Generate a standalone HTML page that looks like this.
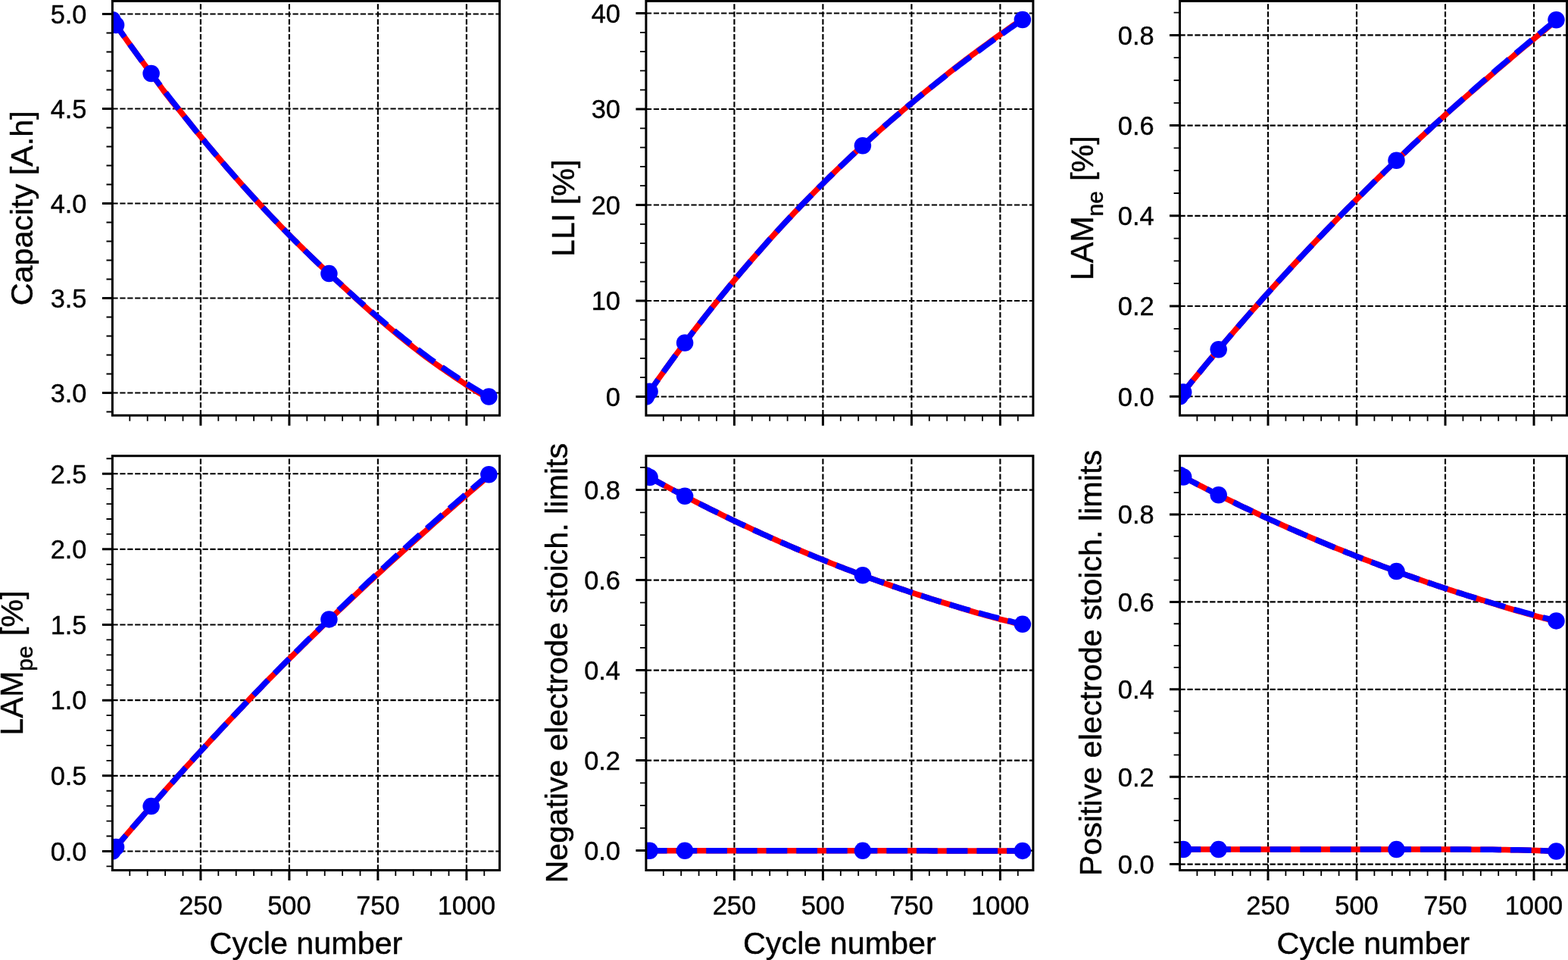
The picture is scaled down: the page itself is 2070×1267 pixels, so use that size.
<!DOCTYPE html>
<html lang="en">
<head>
<meta charset="utf-8">
<title>Degradation summary vs cycle number</title>
<style>
html,body{margin:0;padding:0;background:#fff;}
body{width:2070px;height:1267px;}
svg{display:block;}
</style>
</head>
<body>
<svg width="2070" height="1267" viewBox="0 0 2070 1267" font-family="'Liberation Sans', sans-serif" fill="#000">
<rect width="2070" height="1267" fill="#fff"/>
<defs>
<clipPath id="c0"><rect x="148.4" y="1.4" width="511.2" height="546.85"/></clipPath>
<clipPath id="c1"><rect x="852.9" y="1.4" width="511" height="546.85"/></clipPath>
<clipPath id="c2"><rect x="1557.5" y="1.4" width="511" height="546.85"/></clipPath>
<clipPath id="c3"><rect x="148.4" y="601.7" width="511.2" height="546.85"/></clipPath>
<clipPath id="c4"><rect x="852.9" y="601.7" width="511" height="546.85"/></clipPath>
<clipPath id="c5"><rect x="1557.5" y="601.7" width="511" height="546.85"/></clipPath>
</defs>
<g id="ax1">
<path d="M264.9 548.25V1.4M381.9 548.25V1.4M498.9 548.25V1.4M615.9 548.25V1.4M148.4 518.5H659.6M148.4 393.5H659.6M148.4 268.5H659.6M148.4 143.5H659.6M148.4 18.5H659.6" fill="none" stroke="#000" stroke-width="2.15" stroke-dasharray="7.25 2.67"/>
<g clip-path="url(#c0)" fill="none">
<path d="M148.4 26.25 L152.58 32.22 L156.75 38.15 L160.93 44.04 L165.11 49.9 L169.28 55.73 L173.46 61.52 L177.64 67.29 L181.81 73.01 L185.99 78.71 L190.16 84.37 L194.34 90 L198.52 95.59 L202.69 101.15 L206.87 106.93 L211.05 112.85 L215.22 118.65 L219.4 124.12 L223.58 129.55 L227.75 134.82 L231.93 139.77 L236.11 144.69 L240.28 149.75 L244.46 154.99 L248.64 160.2 L252.81 165.38 L256.99 170.52 L261.16 175.63 L265.34 180.71 L269.52 185.76 L273.69 190.78 L277.87 195.77 L282.05 200.73 L286.22 205.65 L290.4 210.55 L294.58 215.41 L298.75 220.24 L302.93 225.05 L307.11 229.82 L311.28 234.56 L315.46 239.27 L319.64 243.95 L323.81 248.6 L327.99 253.22 L332.16 257.81 L336.34 262.37 L340.52 266.9 L344.69 271.41 L348.87 275.88 L353.05 280.32 L357.22 284.73 L361.4 289.12 L365.58 293.47 L369.75 297.8 L373.93 302.09 L378.11 306.36 L382.28 310.6 L386.46 314.81 L390.64 318.99 L394.81 323.14 L398.99 327.27 L403.16 331.36 L407.34 335.43 L411.52 339.47 L415.69 343.48 L419.87 347.46 L424.05 351.42 L428.22 355.35 L432.4 359.25 L436.58 363.12 L440.75 366.96 L444.93 370.78 L449.11 374.59 L453.28 378.45 L457.46 382.33 L461.64 386.19 L465.81 390.05 L469.99 393.89 L474.16 397.72 L478.34 401.51 L482.52 405.3 L486.69 409.06 L490.87 412.77 L495.05 416.46 L499.22 420.11 L503.4 423.69 L507.58 427.22 L511.75 430.72 L515.93 434.2 L520.11 437.65 L524.28 441.08 L528.46 444.48 L532.64 447.86 L536.81 451.21 L540.99 454.54 L545.16 457.84 L549.34 461.11 L553.52 464.34 L557.69 467.52 L561.87 470.65 L566.05 473.71 L570.22 476.74 L574.4 479.73 L578.58 482.68 L582.75 485.6 L586.93 488.49 L591.11 491.36 L595.28 494.2 L599.46 497.03 L603.64 499.89 L607.81 502.71 L611.99 505.5 L616.16 508.25 L620.34 510.96 L624.52 513.63 L628.69 516.23 L632.87 518.76 L637.05 521.24 L641.22 523.68 L645.4 526.07" stroke="#f00" stroke-width="7.5" stroke-linejoin="round"/>
<path d="M148.4 26.25 L152.58 32.22 L156.75 38.15 L160.93 44.04 L165.11 49.9 L169.28 55.73 L173.46 61.52 L177.64 67.29 L181.81 73.01 L185.99 78.71 L190.16 84.37 L194.34 90 L198.52 95.59 L202.69 101.15 L206.87 106.68 L211.05 112.18 L215.22 117.65 L219.4 123.08 L223.58 128.48 L227.75 133.84 L231.93 139.18 L236.11 144.48 L240.28 149.75 L244.46 154.99 L248.64 160.2 L252.81 165.38 L256.99 170.52 L261.16 175.63 L265.34 180.71 L269.52 185.76 L273.69 190.78 L277.87 195.77 L282.05 200.73 L286.22 205.65 L290.4 210.55 L294.58 215.41 L298.75 220.24 L302.93 225.05 L307.11 229.82 L311.28 234.56 L315.46 239.27 L319.64 243.95 L323.81 248.6 L327.99 253.22 L332.16 257.81 L336.34 262.37 L340.52 266.9 L344.69 271.41 L348.87 275.88 L353.05 280.32 L357.22 284.73 L361.4 289.12 L365.58 293.47 L369.75 297.8 L373.93 302.09 L378.11 306.36 L382.28 310.6 L386.46 314.81 L390.64 318.99 L394.81 323.14 L398.99 327.27 L403.16 331.36 L407.34 335.43 L411.52 339.47 L415.69 343.48 L419.87 347.46 L424.05 351.42 L428.22 355.35 L432.4 359.25 L436.58 363.12 L440.75 366.96 L444.93 370.78 L449.11 374.57 L453.28 378.36 L457.46 382.14 L461.64 385.93 L465.81 389.7 L469.99 393.46 L474.16 397.2 L478.34 400.91 L482.52 404.59 L486.69 408.23 L490.87 411.83 L495.05 415.4 L499.22 418.95 L503.4 422.46 L507.58 425.95 L511.75 429.41 L515.93 432.85 L520.11 436.26 L524.28 439.64 L528.46 443.01 L532.64 446.36 L536.81 449.7 L540.99 453.02 L545.16 456.32 L549.34 459.58 L553.52 462.81 L557.69 465.98 L561.87 469.1 L566.05 472.16 L570.22 475.18 L574.4 478.16 L578.58 481.11 L582.75 484.02 L586.93 486.91 L591.11 489.77 L595.28 492.6 L599.46 495.41 L603.64 498.19 L607.81 500.94 L611.99 503.65 L616.16 506.33 L620.34 508.97 L624.52 511.55 L628.69 514.06 L632.87 516.51 L637.05 518.91 L641.22 521.26 L645.4 523.57" stroke="#00f" stroke-width="7.5" stroke-linejoin="round" stroke-dasharray="27.7 11.98"/>
<circle cx="148.4" cy="26.25" r="11.25" fill="#00f"/>
<circle cx="153.08" cy="32.93" r="11.25" fill="#00f"/>
<circle cx="199.6" cy="97.03" r="11.25" fill="#00f"/>
<circle cx="434.4" cy="361.1" r="11.25" fill="#00f"/>
<circle cx="645.4" cy="523.57" r="11.25" fill="#00f"/>
</g>
<path d="M171.3 548.25v7.5M194.7 548.25v7.5M218.1 548.25v7.5M241.5 548.25v7.5M288.3 548.25v7.5M311.7 548.25v7.5M335.1 548.25v7.5M358.5 548.25v7.5M405.3 548.25v7.5M428.7 548.25v7.5M452.1 548.25v7.5M475.5 548.25v7.5M522.3 548.25v7.5M545.7 548.25v7.5M569.1 548.25v7.5M592.5 548.25v7.5M639.3 548.25v7.5M148.4 543.5h-7.9M148.4 493.5h-7.9M148.4 468.5h-7.9M148.4 443.5h-7.9M148.4 418.5h-7.9M148.4 368.5h-7.9M148.4 343.5h-7.9M148.4 318.5h-7.9M148.4 293.5h-7.9M148.4 243.5h-7.9M148.4 218.5h-7.9M148.4 193.5h-7.9M148.4 168.5h-7.9M148.4 118.5h-7.9M148.4 93.5h-7.9M148.4 68.5h-7.9M148.4 43.5h-7.9" fill="none" stroke="#000" stroke-width="1.8"/>
<path d="M264.9 548.25v13.4M381.9 548.25v13.4M498.9 548.25v13.4M615.9 548.25v13.4M148.4 518.5h-13.5M148.4 393.5h-13.5M148.4 268.5h-13.5M148.4 143.5h-13.5M148.4 18.5h-13.5" fill="none" stroke="#000" stroke-width="3.0"/>
<rect x="148.4" y="1.4" width="511.2" height="546.85" fill="none" stroke="#000" stroke-width="3.0"/>
<g font-size="34.4" stroke="#000" stroke-width="0.4" stroke-linejoin="round">
<text transform="translate(114.5 530.8) scale(1 1.035)" text-anchor="end">3.0</text>
<text transform="translate(114.5 405.8) scale(1 1.035)" text-anchor="end">3.5</text>
<text transform="translate(114.5 280.8) scale(1 1.035)" text-anchor="end">4.0</text>
<text transform="translate(114.5 155.8) scale(1 1.035)" text-anchor="end">4.5</text>
<text transform="translate(114.5 30.8) scale(1 1.035)" text-anchor="end">5.0</text>
</g>
<g font-size="41.3" stroke="#000" stroke-width="0.45" stroke-linejoin="round">
<text transform="translate(42.8 274.82) rotate(-90)" text-anchor="middle" xml:space="preserve">Capacity [A.h]</text>
</g>
</g>
<g id="ax2">
<path d="M969.4 548.25V1.4M1086.4 548.25V1.4M1203.4 548.25V1.4M1320.4 548.25V1.4M852.9 523.5H1363.9M852.9 397H1363.9M852.9 270.5H1363.9M852.9 144H1363.9M852.9 17.5H1363.9" fill="none" stroke="#000" stroke-width="2.15" stroke-dasharray="7.25 2.67"/>
<g clip-path="url(#c1)" fill="none">
<path d="M852.9 523.55 L857.08 517.53 L861.25 511.55 L865.43 505.6 L869.61 499.7 L873.78 493.84 L877.96 488.02 L882.14 482.23 L886.31 476.49 L890.49 470.78 L894.66 465.11 L898.84 459.48 L903.02 453.89 L907.19 448.33 L911.37 442.81 L915.55 437.33 L919.72 431.89 L923.9 426.48 L928.08 421.11 L932.25 415.78 L936.43 410.48 L940.61 405.22 L944.78 399.99 L948.96 394.8 L953.14 389.64 L957.31 384.52 L961.49 379.43 L965.66 374.38 L969.84 369.36 L974.02 364.38 L978.19 359.42 L982.37 354.51 L986.55 349.62 L990.72 344.77 L994.9 339.95 L999.08 335.17 L1003.25 330.41 L1007.43 325.69 L1011.61 321 L1015.78 316.34 L1019.96 311.72 L1024.14 307.12 L1028.31 302.56 L1032.49 298.02 L1036.66 293.52 L1040.84 289.05 L1045.02 284.61 L1049.19 280.19 L1053.37 275.81 L1057.55 271.46 L1061.72 267.13 L1065.9 262.83 L1070.08 258.57 L1074.25 254.33 L1078.43 250.12 L1082.61 245.94 L1086.78 241.78 L1090.96 237.65 L1095.14 233.55 L1099.31 229.48 L1103.49 225.43 L1107.66 221.41 L1111.84 217.42 L1116.02 213.45 L1120.19 209.51 L1124.37 205.6 L1128.55 201.71 L1132.72 197.84 L1136.9 194 L1141.08 190.19 L1145.25 186.4 L1149.43 182.63 L1153.61 178.89 L1157.78 175.17 L1161.96 171.48 L1166.14 167.81 L1170.31 164.16 L1174.49 160.53 L1178.66 156.93 L1182.84 153.35 L1187.02 149.79 L1191.19 146.26 L1195.37 142.75 L1199.55 139.25 L1203.72 135.78 L1207.9 132.33 L1212.08 128.9 L1216.25 125.5 L1220.43 122.11 L1224.61 118.74 L1228.78 115.39 L1232.96 112.07 L1237.14 108.67 L1241.31 105.3 L1245.49 101.95 L1249.66 98.61 L1253.84 95.3 L1258.02 92 L1262.19 88.72 L1266.37 85.46 L1270.55 82.22 L1274.72 79.02 L1278.9 75.89 L1283.08 72.77 L1287.25 69.66 L1291.43 66.58 L1295.61 63.51 L1299.78 60.45 L1303.96 57.42 L1308.14 54.39 L1312.31 51.39 L1316.49 48.4 L1320.66 45.42 L1324.84 42.46 L1329.02 39.51 L1333.19 36.58 L1337.37 33.66 L1341.55 30.75 L1345.72 27.86 L1349.9 24.98" stroke="#f00" stroke-width="7.5" stroke-linejoin="round"/>
<path d="M852.9 523.55 L857.08 517.53 L861.25 511.55 L865.43 505.6 L869.61 499.7 L873.78 493.84 L877.96 488.02 L882.14 482.23 L886.31 476.49 L890.49 470.78 L894.66 465.11 L898.84 459.48 L903.02 453.89 L907.19 448.33 L911.37 442.81 L915.55 437.33 L919.72 431.89 L923.9 426.48 L928.08 421.11 L932.25 415.78 L936.43 410.48 L940.61 405.22 L944.78 399.99 L948.96 394.8 L953.14 389.64 L957.31 384.52 L961.49 379.43 L965.66 374.38 L969.84 369.36 L974.02 364.38 L978.19 359.42 L982.37 354.51 L986.55 349.62 L990.72 344.77 L994.9 339.95 L999.08 335.17 L1003.25 330.41 L1007.43 325.69 L1011.61 321 L1015.78 316.34 L1019.96 311.72 L1024.14 307.12 L1028.31 302.56 L1032.49 298.02 L1036.66 293.52 L1040.84 289.05 L1045.02 284.61 L1049.19 280.19 L1053.37 275.81 L1057.55 271.46 L1061.72 267.13 L1065.9 262.83 L1070.08 258.57 L1074.25 254.33 L1078.43 250.12 L1082.61 245.94 L1086.78 241.78 L1090.96 237.65 L1095.14 233.55 L1099.31 229.48 L1103.49 225.43 L1107.66 221.41 L1111.84 217.42 L1116.02 213.45 L1120.19 209.51 L1124.37 205.6 L1128.55 201.71 L1132.72 197.84 L1136.9 194 L1141.08 190.19 L1145.25 186.4 L1149.43 182.63 L1153.61 178.89 L1157.78 175.17 L1161.96 171.48 L1166.14 167.81 L1170.31 164.16 L1174.49 160.53 L1178.66 156.93 L1182.84 153.35 L1187.02 149.79 L1191.19 146.26 L1195.37 142.75 L1199.55 139.25 L1203.72 135.78 L1207.9 132.33 L1212.08 128.9 L1216.25 125.5 L1220.43 122.11 L1224.61 118.74 L1228.78 115.39 L1232.96 112.07 L1237.14 108.76 L1241.31 105.47 L1245.49 102.2 L1249.66 98.95 L1253.84 95.72 L1258.02 92.5 L1262.19 89.31 L1266.37 86.13 L1270.55 82.97 L1274.72 79.83 L1278.9 76.7 L1283.08 73.59 L1287.25 70.5 L1291.43 67.43 L1295.61 64.37 L1299.78 61.32 L1303.96 58.3 L1308.14 55.29 L1312.31 52.29 L1316.49 49.31 L1320.66 46.34 L1324.84 43.39 L1329.02 40.46 L1333.19 37.53 L1337.37 34.63 L1341.55 31.73 L1345.72 28.85 L1349.9 25.98" stroke="#00f" stroke-width="7.5" stroke-linejoin="round" stroke-dasharray="27.7 11.98"/>
<circle cx="852.9" cy="523.55" r="11.25" fill="#00f"/>
<circle cx="857.58" cy="516.81" r="11.25" fill="#00f"/>
<circle cx="904.1" cy="452.45" r="11.25" fill="#00f"/>
<circle cx="1138.9" cy="192.18" r="11.25" fill="#00f"/>
<circle cx="1349.9" cy="25.98" r="11.25" fill="#00f"/>
</g>
<path d="M875.8 548.25v7.5M899.2 548.25v7.5M922.6 548.25v7.5M946 548.25v7.5M992.8 548.25v7.5M1016.2 548.25v7.5M1039.6 548.25v7.5M1063 548.25v7.5M1109.8 548.25v7.5M1133.2 548.25v7.5M1156.6 548.25v7.5M1180 548.25v7.5M1226.8 548.25v7.5M1250.2 548.25v7.5M1273.6 548.25v7.5M1297 548.25v7.5M1343.8 548.25v7.5M852.9 498.2h-7.9M852.9 472.9h-7.9M852.9 447.6h-7.9M852.9 422.3h-7.9M852.9 371.7h-7.9M852.9 346.4h-7.9M852.9 321.1h-7.9M852.9 295.8h-7.9M852.9 245.2h-7.9M852.9 219.9h-7.9M852.9 194.6h-7.9M852.9 169.3h-7.9M852.9 118.7h-7.9M852.9 93.4h-7.9M852.9 68.1h-7.9M852.9 42.8h-7.9" fill="none" stroke="#000" stroke-width="1.8"/>
<path d="M969.4 548.25v13.4M1086.4 548.25v13.4M1203.4 548.25v13.4M1320.4 548.25v13.4M852.9 523.5h-13.5M852.9 397h-13.5M852.9 270.5h-13.5M852.9 144h-13.5M852.9 17.5h-13.5" fill="none" stroke="#000" stroke-width="3.0"/>
<rect x="852.9" y="1.4" width="511" height="546.85" fill="none" stroke="#000" stroke-width="3.0"/>
<g font-size="34.4" stroke="#000" stroke-width="0.4" stroke-linejoin="round">
<text transform="translate(819 535.8) scale(1 1.035)" text-anchor="end">0</text>
<text transform="translate(819 409.3) scale(1 1.035)" text-anchor="end">10</text>
<text transform="translate(819 282.8) scale(1 1.035)" text-anchor="end">20</text>
<text transform="translate(819 156.3) scale(1 1.035)" text-anchor="end">30</text>
<text transform="translate(819 29.8) scale(1 1.035)" text-anchor="end">40</text>
</g>
<g font-size="41.3" stroke="#000" stroke-width="0.45" stroke-linejoin="round">
<text transform="translate(758.2 274.82) rotate(-90)" text-anchor="middle" xml:space="preserve"><tspan font-size="43" textLength="57.42" lengthAdjust="spacingAndGlyphs">LLI</tspan> [%]</text>
</g>
</g>
<g id="ax3">
<path d="M1674 548.25V1.4M1791 548.25V1.4M1908 548.25V1.4M2025 548.25V1.4M1557.5 523.2H2068.5M1557.5 404H2068.5M1557.5 284.8H2068.5M1557.5 165.6H2068.5M1557.5 46.4H2068.5" fill="none" stroke="#000" stroke-width="2.15" stroke-dasharray="7.25 2.67"/>
<g clip-path="url(#c2)" fill="none">
<path d="M1557.5 523.25 L1561.68 518.08 L1565.85 512.94 L1570.03 507.81 L1574.21 502.7 L1578.38 497.62 L1582.56 492.55 L1586.74 487.51 L1590.91 482.48 L1595.09 477.47 L1599.26 472.49 L1603.44 467.52 L1607.62 462.57 L1611.79 457.64 L1615.97 452.73 L1620.15 447.84 L1624.32 442.97 L1628.5 438.11 L1632.68 433.28 L1636.85 428.46 L1641.03 423.67 L1645.21 418.89 L1649.38 414.13 L1653.56 409.39 L1657.74 404.66 L1661.91 399.96 L1666.09 395.27 L1670.26 390.6 L1674.44 385.95 L1678.62 381.32 L1682.79 376.7 L1686.97 372.1 L1691.15 367.52 L1695.32 362.96 L1699.5 358.42 L1703.68 353.89 L1707.85 349.38 L1712.03 344.88 L1716.21 340.41 L1720.38 335.95 L1724.56 331.5 L1728.74 327.08 L1732.91 322.67 L1737.09 318.28 L1741.26 313.9 L1745.44 309.54 L1749.62 305.2 L1753.79 300.87 L1757.97 296.56 L1762.15 292.26 L1766.32 287.98 L1770.5 283.72 L1774.68 279.47 L1778.85 275.24 L1783.03 271.02 L1787.21 266.82 L1791.38 262.64 L1795.56 258.47 L1799.74 254.31 L1803.91 250.18 L1808.09 246.05 L1812.26 241.94 L1816.44 237.85 L1820.62 233.77 L1824.79 229.7 L1828.97 225.65 L1833.15 221.62 L1837.32 217.6 L1841.5 213.59 L1845.68 209.6 L1849.85 205.62 L1854.03 201.66 L1858.21 197.71 L1862.38 193.77 L1866.56 189.85 L1870.74 185.94 L1874.91 182.05 L1879.09 178.16 L1883.26 174.3 L1887.44 170.44 L1891.62 166.6 L1895.79 162.77 L1899.97 158.96 L1904.15 155.16 L1908.32 151.37 L1912.5 147.59 L1916.68 143.83 L1920.85 140.15 L1925.03 136.49 L1929.21 132.85 L1933.38 129.22 L1937.56 125.61 L1941.74 122 L1945.91 118.41 L1950.09 114.83 L1954.26 111.26 L1958.44 107.69 L1962.62 104.07 L1966.79 100.46 L1970.97 96.86 L1975.15 93.27 L1979.32 89.69 L1983.5 86.12 L1987.68 82.57 L1991.85 79.03 L1996.03 75.49 L2000.21 71.97 L2004.38 68.46 L2008.56 64.96 L2012.74 61.48 L2016.91 58 L2021.09 54.53 L2025.26 51.07 L2029.44 47.63 L2033.62 44.19 L2037.79 40.77 L2041.97 37.35 L2046.15 33.95 L2050.32 30.55 L2054.5 27.17" stroke="#f00" stroke-width="7.5" stroke-linejoin="round"/>
<path d="M1557.5 523.25 L1561.68 518.08 L1565.85 512.94 L1570.03 507.81 L1574.21 502.7 L1578.38 497.62 L1582.56 492.55 L1586.74 487.51 L1590.91 482.48 L1595.09 477.47 L1599.26 472.49 L1603.44 467.52 L1607.62 462.57 L1611.79 457.64 L1615.97 452.73 L1620.15 447.84 L1624.32 442.97 L1628.5 438.11 L1632.68 433.28 L1636.85 428.46 L1641.03 423.67 L1645.21 418.89 L1649.38 414.13 L1653.56 409.39 L1657.74 404.66 L1661.91 399.96 L1666.09 395.27 L1670.26 390.6 L1674.44 385.95 L1678.62 381.32 L1682.79 376.7 L1686.97 372.1 L1691.15 367.52 L1695.32 362.96 L1699.5 358.42 L1703.68 353.89 L1707.85 349.38 L1712.03 344.88 L1716.21 340.41 L1720.38 335.95 L1724.56 331.5 L1728.74 327.08 L1732.91 322.67 L1737.09 318.28 L1741.26 313.9 L1745.44 309.54 L1749.62 305.2 L1753.79 300.87 L1757.97 296.56 L1762.15 292.26 L1766.32 287.98 L1770.5 283.72 L1774.68 279.47 L1778.85 275.24 L1783.03 271.02 L1787.21 266.82 L1791.38 262.64 L1795.56 258.47 L1799.74 254.31 L1803.91 250.18 L1808.09 246.05 L1812.26 241.94 L1816.44 237.85 L1820.62 233.77 L1824.79 229.7 L1828.97 225.65 L1833.15 221.62 L1837.32 217.6 L1841.5 213.59 L1845.68 209.6 L1849.85 205.62 L1854.03 201.66 L1858.21 197.71 L1862.38 193.77 L1866.56 189.85 L1870.74 185.94 L1874.91 182.05 L1879.09 178.16 L1883.26 174.3 L1887.44 170.44 L1891.62 166.6 L1895.79 162.77 L1899.97 158.96 L1904.15 155.16 L1908.32 151.37 L1912.5 147.59 L1916.68 143.83 L1920.85 140.08 L1925.03 136.34 L1929.21 132.62 L1933.38 128.91 L1937.56 125.21 L1941.74 121.52 L1945.91 117.84 L1950.09 114.18 L1954.26 110.53 L1958.44 106.89 L1962.62 103.26 L1966.79 99.65 L1970.97 96.04 L1975.15 92.45 L1979.32 88.87 L1983.5 85.3 L1987.68 81.74 L1991.85 78.19 L1996.03 74.66 L2000.21 71.13 L2004.38 67.62 L2008.56 64.11 L2012.74 60.62 L2016.91 57.14 L2021.09 53.67 L2025.26 50.21 L2029.44 46.75 L2033.62 43.31 L2037.79 39.88 L2041.97 36.46 L2046.15 33.05 L2050.32 29.66 L2054.5 26.27" stroke="#00f" stroke-width="7.5" stroke-linejoin="round" stroke-dasharray="27.7 11.98"/>
<circle cx="1557.5" cy="523.25" r="11.25" fill="#00f"/>
<circle cx="1562.18" cy="517.46" r="11.25" fill="#00f"/>
<circle cx="1608.7" cy="461.29" r="11.25" fill="#00f"/>
<circle cx="1843.5" cy="211.68" r="11.25" fill="#00f"/>
<circle cx="2054.5" cy="26.27" r="11.25" fill="#00f"/>
</g>
<path d="M1580.4 548.25v7.5M1603.8 548.25v7.5M1627.2 548.25v7.5M1650.6 548.25v7.5M1697.4 548.25v7.5M1720.8 548.25v7.5M1744.2 548.25v7.5M1767.6 548.25v7.5M1814.4 548.25v7.5M1837.8 548.25v7.5M1861.2 548.25v7.5M1884.6 548.25v7.5M1931.4 548.25v7.5M1954.8 548.25v7.5M1978.2 548.25v7.5M2001.6 548.25v7.5M2048.4 548.25v7.5M1557.5 493.4h-7.9M1557.5 463.6h-7.9M1557.5 433.8h-7.9M1557.5 374.2h-7.9M1557.5 344.4h-7.9M1557.5 314.6h-7.9M1557.5 255h-7.9M1557.5 225.2h-7.9M1557.5 195.4h-7.9M1557.5 135.8h-7.9M1557.5 106h-7.9M1557.5 76.2h-7.9M1557.5 16.6h-7.9" fill="none" stroke="#000" stroke-width="1.8"/>
<path d="M1674 548.25v13.4M1791 548.25v13.4M1908 548.25v13.4M2025 548.25v13.4M1557.5 523.2h-13.5M1557.5 404h-13.5M1557.5 284.8h-13.5M1557.5 165.6h-13.5M1557.5 46.4h-13.5" fill="none" stroke="#000" stroke-width="3.0"/>
<rect x="1557.5" y="1.4" width="511" height="546.85" fill="none" stroke="#000" stroke-width="3.0"/>
<g font-size="34.4" stroke="#000" stroke-width="0.4" stroke-linejoin="round">
<text transform="translate(1523.6 535.5) scale(1 1.035)" text-anchor="end">0.0</text>
<text transform="translate(1523.6 416.3) scale(1 1.035)" text-anchor="end">0.2</text>
<text transform="translate(1523.6 297.1) scale(1 1.035)" text-anchor="end">0.4</text>
<text transform="translate(1523.6 177.9) scale(1 1.035)" text-anchor="end">0.6</text>
<text transform="translate(1523.6 58.7) scale(1 1.035)" text-anchor="end">0.8</text>
</g>
<g font-size="41.3" stroke="#000" stroke-width="0.45" stroke-linejoin="round">
<text transform="translate(1443 274.82) rotate(-90)" text-anchor="middle" xml:space="preserve"><tspan font-size="43" textLength="84.92" lengthAdjust="spacingAndGlyphs">LAM</tspan><tspan font-size="30.03" dy="12.6">ne</tspan><tspan dy="-12.6" dx="1.6"> [%]</tspan></text>
</g>
</g>
<g id="ax4">
<path d="M264.9 1148.55V601.7M381.9 1148.55V601.7M498.9 1148.55V601.7M615.9 1148.55V601.7M148.4 1123.45H659.6M148.4 1023.8H659.6M148.4 924.15H659.6M148.4 824.5H659.6M148.4 724.85H659.6M148.4 625.2H659.6" fill="none" stroke="#000" stroke-width="2.15" stroke-dasharray="7.25 2.67"/>
<g clip-path="url(#c3)" fill="none">
<path d="M148.4 1123.44 L152.58 1118.52 L156.75 1113.62 L160.93 1108.73 L165.11 1103.85 L169.28 1098.99 L173.46 1094.14 L177.64 1089.31 L181.81 1084.49 L185.99 1079.68 L190.16 1074.89 L194.34 1070.11 L198.52 1065.35 L202.69 1060.6 L206.87 1055.86 L211.05 1051.14 L215.22 1046.43 L219.4 1041.74 L223.58 1037.06 L227.75 1032.39 L231.93 1027.73 L236.11 1023.09 L240.28 1018.47 L244.46 1013.85 L248.64 1009.25 L252.81 1004.66 L256.99 1000.09 L261.16 995.53 L265.34 990.98 L269.52 986.45 L273.69 981.93 L277.87 977.42 L282.05 972.92 L286.22 968.44 L290.4 963.97 L294.58 959.51 L298.75 955.07 L302.93 950.64 L307.11 946.22 L311.28 941.81 L315.46 937.42 L319.64 933.04 L323.81 928.67 L327.99 924.32 L332.16 919.97 L336.34 915.64 L340.52 911.32 L344.69 907.02 L348.87 902.73 L353.05 898.48 L357.22 894.25 L361.4 890.04 L365.58 885.83 L369.75 881.63 L373.93 877.45 L378.11 873.28 L382.28 869.12 L386.46 864.97 L390.64 860.84 L394.81 856.72 L398.99 852.6 L403.16 848.5 L407.34 844.41 L411.52 840.34 L415.69 836.27 L419.87 832.22 L424.05 828.17 L428.22 824.14 L432.4 820.12 L436.58 816.11 L440.75 812.11 L444.93 808.12 L449.11 804.15 L453.28 800.18 L457.46 796.22 L461.64 792.28 L465.81 788.35 L469.99 784.42 L474.16 780.51 L478.34 776.61 L482.52 772.72 L486.69 768.84 L490.87 764.97 L495.05 761.11 L499.22 757.27 L503.4 753.43 L507.58 749.6 L511.75 745.78 L515.93 741.98 L520.11 738.18 L524.28 734.4 L528.46 730.62 L532.64 726.86 L536.81 723.1 L540.99 719.36 L545.16 715.62 L549.34 711.89 L553.52 708.14 L557.69 704.41 L561.87 700.68 L566.05 696.96 L570.22 693.25 L574.4 689.56 L578.58 685.87 L582.75 682.19 L586.93 678.52 L591.11 674.86 L595.28 671.21 L599.46 667.57 L603.64 663.94 L607.81 660.32 L611.99 656.71 L616.16 653.1 L620.34 649.51 L624.52 645.92 L628.69 642.35 L632.87 638.78 L637.05 635.22 L641.22 631.67 L645.4 628.13" stroke="#f00" stroke-width="7.5" stroke-linejoin="round"/>
<path d="M148.4 1123.44 L152.58 1118.52 L156.75 1113.62 L160.93 1108.73 L165.11 1103.85 L169.28 1098.99 L173.46 1094.14 L177.64 1089.31 L181.81 1084.49 L185.99 1079.68 L190.16 1074.89 L194.34 1070.11 L198.52 1065.35 L202.69 1060.6 L206.87 1055.86 L211.05 1051.14 L215.22 1046.43 L219.4 1041.74 L223.58 1037.06 L227.75 1032.39 L231.93 1027.73 L236.11 1023.09 L240.28 1018.47 L244.46 1013.85 L248.64 1009.25 L252.81 1004.66 L256.99 1000.09 L261.16 995.53 L265.34 990.98 L269.52 986.45 L273.69 981.93 L277.87 977.42 L282.05 972.92 L286.22 968.44 L290.4 963.97 L294.58 959.51 L298.75 955.07 L302.93 950.64 L307.11 946.22 L311.28 941.81 L315.46 937.42 L319.64 933.04 L323.81 928.67 L327.99 924.32 L332.16 919.97 L336.34 915.64 L340.52 911.32 L344.69 907.02 L348.87 902.72 L353.05 898.44 L357.22 894.17 L361.4 889.91 L365.58 885.67 L369.75 881.44 L373.93 877.21 L378.11 873 L382.28 868.81 L386.46 864.62 L390.64 860.45 L394.81 856.28 L398.99 852.13 L403.16 847.99 L407.34 843.87 L411.52 839.75 L415.69 835.65 L419.87 831.55 L424.05 827.47 L428.22 823.4 L432.4 819.34 L436.58 815.29 L440.75 811.26 L444.93 807.23 L449.11 803.22 L453.28 799.21 L457.46 795.22 L461.64 791.24 L465.81 787.27 L469.99 783.31 L474.16 779.36 L478.34 775.43 L482.52 771.5 L486.69 767.58 L490.87 763.68 L495.05 759.78 L499.22 755.9 L503.4 752.02 L507.58 748.16 L511.75 744.31 L515.93 740.46 L520.11 736.63 L524.28 732.81 L528.46 729 L532.64 725.2 L536.81 721.4 L540.99 717.62 L545.16 713.85 L549.34 710.09 L553.52 706.34 L557.69 702.6 L561.87 698.87 L566.05 695.14 L570.22 691.43 L574.4 687.73 L578.58 684.04 L582.75 680.35 L586.93 676.68 L591.11 673.02 L595.28 669.36 L599.46 665.72 L603.64 662.08 L607.81 658.46 L611.99 654.84 L616.16 651.23 L620.34 647.63 L624.52 644.04 L628.69 640.46 L632.87 636.89 L637.05 633.33 L641.22 629.78 L645.4 626.23" stroke="#00f" stroke-width="7.5" stroke-linejoin="round" stroke-dasharray="27.7 11.98"/>
<circle cx="148.4" cy="1123.44" r="11.25" fill="#00f"/>
<circle cx="153.08" cy="1117.93" r="11.25" fill="#00f"/>
<circle cx="199.6" cy="1064.12" r="11.25" fill="#00f"/>
<circle cx="434.4" cy="817.4" r="11.25" fill="#00f"/>
<circle cx="645.4" cy="626.23" r="11.25" fill="#00f"/>
</g>
<path d="M171.3 1148.55v7.5M194.7 1148.55v7.5M218.1 1148.55v7.5M241.5 1148.55v7.5M288.3 1148.55v7.5M311.7 1148.55v7.5M335.1 1148.55v7.5M358.5 1148.55v7.5M405.3 1148.55v7.5M428.7 1148.55v7.5M452.1 1148.55v7.5M475.5 1148.55v7.5M522.3 1148.55v7.5M545.7 1148.55v7.5M569.1 1148.55v7.5M592.5 1148.55v7.5M639.3 1148.55v7.5M148.4 1143.38h-7.9M148.4 1103.52h-7.9M148.4 1083.59h-7.9M148.4 1063.66h-7.9M148.4 1043.73h-7.9M148.4 1003.87h-7.9M148.4 983.94h-7.9M148.4 964.01h-7.9M148.4 944.08h-7.9M148.4 904.22h-7.9M148.4 884.29h-7.9M148.4 864.36h-7.9M148.4 844.43h-7.9M148.4 804.57h-7.9M148.4 784.64h-7.9M148.4 764.71h-7.9M148.4 744.78h-7.9M148.4 704.92h-7.9M148.4 684.99h-7.9M148.4 665.06h-7.9M148.4 645.13h-7.9M148.4 605.27h-7.9" fill="none" stroke="#000" stroke-width="1.8"/>
<path d="M264.9 1148.55v13.4M381.9 1148.55v13.4M498.9 1148.55v13.4M615.9 1148.55v13.4M148.4 1123.45h-13.5M148.4 1023.8h-13.5M148.4 924.15h-13.5M148.4 824.5h-13.5M148.4 724.85h-13.5M148.4 625.2h-13.5" fill="none" stroke="#000" stroke-width="3.0"/>
<rect x="148.4" y="601.7" width="511.2" height="546.85" fill="none" stroke="#000" stroke-width="3.0"/>
<g font-size="34.4" stroke="#000" stroke-width="0.4" stroke-linejoin="round">
<text transform="translate(114.5 1135.75) scale(1 1.035)" text-anchor="end">0.0</text>
<text transform="translate(114.5 1036.1) scale(1 1.035)" text-anchor="end">0.5</text>
<text transform="translate(114.5 936.45) scale(1 1.035)" text-anchor="end">1.0</text>
<text transform="translate(114.5 836.8) scale(1 1.035)" text-anchor="end">1.5</text>
<text transform="translate(114.5 737.15) scale(1 1.035)" text-anchor="end">2.0</text>
<text transform="translate(114.5 637.5) scale(1 1.035)" text-anchor="end">2.5</text>
<text transform="translate(264.9 1207.1) scale(1 1.035)" text-anchor="middle">250</text>
<text transform="translate(381.9 1207.1) scale(1 1.035)" text-anchor="middle">500</text>
<text transform="translate(498.9 1207.1) scale(1 1.035)" text-anchor="middle">750</text>
<text transform="translate(615.9 1207.1) scale(1 1.035)" text-anchor="middle">1000</text>
</g>
<g font-size="41.3" stroke="#000" stroke-width="0.45" stroke-linejoin="round">
<text x="404" y="1258.8" text-anchor="middle">Cycle number</text>
<text transform="translate(30 875.12) rotate(-90)" text-anchor="middle" xml:space="preserve"><tspan font-size="43" textLength="84.92" lengthAdjust="spacingAndGlyphs">LAM</tspan><tspan font-size="30.03" dy="12.6">pe</tspan><tspan dy="-12.6" dx="1.6"> [%]</tspan></text>
</g>
</g>
<g id="ax5">
<path d="M969.4 1148.55V601.7M1086.4 1148.55V601.7M1203.4 1148.55V601.7M1320.4 1148.55V601.7M852.9 1122.6H1363.9M852.9 1003.6H1363.9M852.9 884.6H1363.9M852.9 765.6H1363.9M852.9 646.6H1363.9" fill="none" stroke="#000" stroke-width="2.15" stroke-dasharray="7.25 2.67"/>
<g clip-path="url(#c4)" fill="none">
<path d="M852.9 627.5 L857.08 629.79 L861.25 632.07 L865.43 634.34 L869.61 636.6 L873.78 638.85 L877.96 641.09 L882.14 643.31 L886.31 645.53 L890.49 647.74 L894.66 649.93 L898.84 652.11 L903.02 654.29 L907.19 656.45 L911.37 658.6 L915.55 660.74 L919.72 662.87 L923.9 664.98 L928.08 667.09 L932.25 669.19 L936.43 671.27 L940.61 673.35 L944.78 675.41 L948.96 677.46 L953.14 679.51 L957.31 681.54 L961.49 683.56 L965.66 685.57 L969.84 687.56 L974.02 689.55 L978.19 691.53 L982.37 693.49 L986.55 695.45 L990.72 697.39 L994.9 699.32 L999.08 701.25 L1003.25 703.16 L1007.43 705.06 L1011.61 706.95 L1015.78 708.83 L1019.96 710.69 L1024.14 712.55 L1028.31 714.4 L1032.49 716.23 L1036.66 718.05 L1040.84 719.87 L1045.02 721.67 L1049.19 723.46 L1053.37 725.24 L1057.55 727.01 L1061.72 728.77 L1065.9 730.52 L1070.08 732.25 L1074.25 733.98 L1078.43 735.7 L1082.61 737.4 L1086.78 739.09 L1090.96 740.78 L1095.14 742.45 L1099.31 744.11 L1103.49 745.76 L1107.66 747.4 L1111.84 749.03 L1116.02 750.64 L1120.19 752.25 L1124.37 753.84 L1128.55 755.43 L1132.72 757 L1136.9 758.57 L1141.08 760.12 L1145.25 761.66 L1149.43 763.19 L1153.61 764.71 L1157.78 766.22 L1161.96 767.71 L1166.14 769.2 L1170.31 770.68 L1174.49 772.14 L1178.66 773.6 L1182.84 775.04 L1187.02 776.47 L1191.19 777.89 L1195.37 779.3 L1199.55 780.7 L1203.72 782.09 L1207.9 783.47 L1212.08 784.84 L1216.25 786.19 L1220.43 787.54 L1224.61 788.87 L1228.78 790.2 L1232.96 791.51 L1237.14 792.81 L1241.31 794.1 L1245.49 795.38 L1249.66 796.65 L1253.84 797.92 L1258.02 799.23 L1262.19 800.53 L1266.37 801.82 L1270.55 803.1 L1274.72 804.36 L1278.9 805.62 L1283.08 806.86 L1287.25 808.1 L1291.43 809.32 L1295.61 810.5 L1299.78 811.66 L1303.96 812.8 L1308.14 813.93 L1312.31 815.05 L1316.49 816.16 L1320.66 817.26 L1324.84 818.35 L1329.02 819.42 L1333.19 820.49 L1337.37 821.55 L1341.55 822.59 L1345.72 823.62 L1349.9 824.65" stroke="#f00" stroke-width="7.5" stroke-linejoin="round"/>
<path d="M852.9 1122.8 L861.32 1122.8 L869.75 1122.8 L878.17 1122.81 L886.59 1122.81 L895.02 1122.81 L903.44 1122.81 L911.87 1122.81 L920.29 1122.81 L928.71 1122.82 L937.14 1122.82 L945.56 1122.82 L953.98 1122.82 L962.41 1122.82 L970.83 1122.82 L979.26 1122.83 L987.68 1122.83 L996.1 1122.83 L1004.53 1122.83 L1012.95 1122.83 L1021.37 1122.83 L1029.8 1122.84 L1038.22 1122.84 L1046.65 1122.84 L1055.07 1122.84 L1063.49 1122.84 L1071.92 1122.84 L1080.34 1122.85 L1088.76 1122.85 L1097.19 1122.85 L1105.61 1122.85 L1114.04 1122.85 L1122.46 1122.85 L1130.88 1122.86 L1139.31 1122.86 L1147.73 1122.86 L1156.15 1122.86 L1164.58 1122.86 L1173 1122.86 L1181.43 1122.87 L1189.85 1122.87 L1198.27 1122.87 L1206.7 1122.87 L1215.12 1122.87 L1223.54 1122.87 L1231.97 1122.88 L1240.39 1122.88 L1248.82 1122.88 L1257.24 1122.88 L1265.66 1122.88 L1274.09 1122.88 L1282.51 1122.89 L1290.93 1122.89 L1299.36 1122.89 L1307.78 1122.89 L1316.21 1122.89 L1324.63 1122.89 L1333.05 1122.9 L1341.48 1122.9 L1349.9 1122.9" stroke="#f00" stroke-width="7.5" stroke-linejoin="round"/>
<path d="M852.9 627.5 L857.08 629.79 L861.25 632.07 L865.43 634.34 L869.61 636.6 L873.78 638.85 L877.96 641.09 L882.14 643.31 L886.31 645.53 L890.49 647.74 L894.66 649.93 L898.84 652.11 L903.02 654.29 L907.19 656.45 L911.37 658.6 L915.55 660.74 L919.72 662.87 L923.9 664.98 L928.08 667.09 L932.25 669.19 L936.43 671.27 L940.61 673.35 L944.78 675.41 L948.96 677.46 L953.14 679.51 L957.31 681.54 L961.49 683.56 L965.66 685.57 L969.84 687.56 L974.02 689.55 L978.19 691.53 L982.37 693.49 L986.55 695.45 L990.72 697.39 L994.9 699.32 L999.08 701.25 L1003.25 703.16 L1007.43 705.06 L1011.61 706.95 L1015.78 708.83 L1019.96 710.69 L1024.14 712.55 L1028.31 714.4 L1032.49 716.23 L1036.66 718.05 L1040.84 719.87 L1045.02 721.67 L1049.19 723.46 L1053.37 725.24 L1057.55 727.01 L1061.72 728.77 L1065.9 730.52 L1070.08 732.25 L1074.25 733.98 L1078.43 735.7 L1082.61 737.4 L1086.78 739.09 L1090.96 740.78 L1095.14 742.45 L1099.31 744.11 L1103.49 745.76 L1107.66 747.4 L1111.84 749.03 L1116.02 750.64 L1120.19 752.25 L1124.37 753.84 L1128.55 755.43 L1132.72 757 L1136.9 758.57 L1141.08 760.12 L1145.25 761.66 L1149.43 763.19 L1153.61 764.71 L1157.78 766.22 L1161.96 767.71 L1166.14 769.2 L1170.31 770.68 L1174.49 772.14 L1178.66 773.6 L1182.84 775.04 L1187.02 776.47 L1191.19 777.89 L1195.37 779.3 L1199.55 780.7 L1203.72 782.09 L1207.9 783.47 L1212.08 784.84 L1216.25 786.19 L1220.43 787.54 L1224.61 788.87 L1228.78 790.2 L1232.96 791.51 L1237.14 792.81 L1241.31 794.1 L1245.49 795.38 L1249.66 796.65 L1253.84 797.91 L1258.02 799.16 L1262.19 800.39 L1266.37 801.62 L1270.55 802.83 L1274.72 804.04 L1278.9 805.23 L1283.08 806.41 L1287.25 807.58 L1291.43 808.74 L1295.61 809.89 L1299.78 811.03 L1303.96 812.16 L1308.14 813.28 L1312.31 814.38 L1316.49 815.48 L1320.66 816.56 L1324.84 817.64 L1329.02 818.7 L1333.19 819.75 L1337.37 820.79 L1341.55 821.82 L1345.72 822.84 L1349.9 823.85" stroke="#00f" stroke-width="7.5" stroke-linejoin="round" stroke-dasharray="27.7 11.98"/>
<path d="M852.9 1122.8 L861.32 1122.8 L869.75 1122.8 L878.17 1122.81 L886.59 1122.81 L895.02 1122.81 L903.44 1122.81 L911.87 1122.81 L920.29 1122.81 L928.71 1122.82 L937.14 1122.82 L945.56 1122.82 L953.98 1122.82 L962.41 1122.82 L970.83 1122.82 L979.26 1122.83 L987.68 1122.83 L996.1 1122.83 L1004.53 1122.83 L1012.95 1122.83 L1021.37 1122.83 L1029.8 1122.84 L1038.22 1122.84 L1046.65 1122.84 L1055.07 1122.84 L1063.49 1122.84 L1071.92 1122.84 L1080.34 1122.85 L1088.76 1122.85 L1097.19 1122.85 L1105.61 1122.85 L1114.04 1122.85 L1122.46 1122.85 L1130.88 1122.86 L1139.31 1122.86 L1147.73 1122.86 L1156.15 1122.86 L1164.58 1122.86 L1173 1122.86 L1181.43 1122.87 L1189.85 1122.87 L1198.27 1122.87 L1206.7 1122.87 L1215.12 1122.87 L1223.54 1122.87 L1231.97 1122.88 L1240.39 1122.88 L1248.82 1122.88 L1257.24 1122.88 L1265.66 1122.88 L1274.09 1122.88 L1282.51 1122.89 L1290.93 1122.89 L1299.36 1122.89 L1307.78 1122.89 L1316.21 1122.89 L1324.63 1122.89 L1333.05 1122.9 L1341.48 1122.9 L1349.9 1122.9" stroke="#00f" stroke-width="7.5" stroke-linejoin="round" stroke-dasharray="27.7 11.98"/>
<circle cx="852.9" cy="627.5" r="11.25" fill="#00f"/>
<circle cx="857.58" cy="630.06" r="11.25" fill="#00f"/>
<circle cx="904.1" cy="654.85" r="11.25" fill="#00f"/>
<circle cx="1138.9" cy="759.31" r="11.25" fill="#00f"/>
<circle cx="1349.9" cy="823.85" r="11.25" fill="#00f"/>
<circle cx="852.9" cy="1122.8" r="11.25" fill="#00f"/>
<circle cx="857.58" cy="1122.8" r="11.25" fill="#00f"/>
<circle cx="904.1" cy="1122.81" r="11.25" fill="#00f"/>
<circle cx="1138.9" cy="1122.86" r="11.25" fill="#00f"/>
<circle cx="1349.9" cy="1122.9" r="11.25" fill="#00f"/>
</g>
<path d="M875.8 1148.55v7.5M899.2 1148.55v7.5M922.6 1148.55v7.5M946 1148.55v7.5M992.8 1148.55v7.5M1016.2 1148.55v7.5M1039.6 1148.55v7.5M1063 1148.55v7.5M1109.8 1148.55v7.5M1133.2 1148.55v7.5M1156.6 1148.55v7.5M1180 1148.55v7.5M1226.8 1148.55v7.5M1250.2 1148.55v7.5M1273.6 1148.55v7.5M1297 1148.55v7.5M1343.8 1148.55v7.5M852.9 1092.85h-7.9M852.9 1063.1h-7.9M852.9 1033.35h-7.9M852.9 973.85h-7.9M852.9 944.1h-7.9M852.9 914.35h-7.9M852.9 854.85h-7.9M852.9 825.1h-7.9M852.9 795.35h-7.9M852.9 735.85h-7.9M852.9 706.1h-7.9M852.9 676.35h-7.9M852.9 616.85h-7.9" fill="none" stroke="#000" stroke-width="1.8"/>
<path d="M969.4 1148.55v13.4M1086.4 1148.55v13.4M1203.4 1148.55v13.4M1320.4 1148.55v13.4M852.9 1122.6h-13.5M852.9 1003.6h-13.5M852.9 884.6h-13.5M852.9 765.6h-13.5M852.9 646.6h-13.5" fill="none" stroke="#000" stroke-width="3.0"/>
<rect x="852.9" y="601.7" width="511" height="546.85" fill="none" stroke="#000" stroke-width="3.0"/>
<g font-size="34.4" stroke="#000" stroke-width="0.4" stroke-linejoin="round">
<text transform="translate(819 1134.9) scale(1 1.035)" text-anchor="end">0.0</text>
<text transform="translate(819 1015.9) scale(1 1.035)" text-anchor="end">0.2</text>
<text transform="translate(819 896.9) scale(1 1.035)" text-anchor="end">0.4</text>
<text transform="translate(819 777.9) scale(1 1.035)" text-anchor="end">0.6</text>
<text transform="translate(819 658.9) scale(1 1.035)" text-anchor="end">0.8</text>
<text transform="translate(969.4 1207.1) scale(1 1.035)" text-anchor="middle">250</text>
<text transform="translate(1086.4 1207.1) scale(1 1.035)" text-anchor="middle">500</text>
<text transform="translate(1203.4 1207.1) scale(1 1.035)" text-anchor="middle">750</text>
<text transform="translate(1320.4 1207.1) scale(1 1.035)" text-anchor="middle">1000</text>
</g>
<g font-size="41.3" stroke="#000" stroke-width="0.45" stroke-linejoin="round">
<text x="1108.4" y="1258.8" text-anchor="middle">Cycle number</text>
<text transform="translate(749 875.12) rotate(-90)" text-anchor="middle" xml:space="preserve">Negative electrode stoich. limits</text>
</g>
</g>
<g id="ax6">
<path d="M1674 1148.55V601.7M1791 1148.55V601.7M1908 1148.55V601.7M2025 1148.55V601.7M1557.5 1140.6H2068.5M1557.5 1025.2H2068.5M1557.5 909.8H2068.5M1557.5 794.4H2068.5M1557.5 679H2068.5" fill="none" stroke="#000" stroke-width="2.15" stroke-dasharray="7.25 2.67"/>
<g clip-path="url(#c5)" fill="none">
<path d="M1557.5 627.04 L1561.68 629.24 L1565.85 631.42 L1570.03 633.6 L1574.21 635.77 L1578.38 637.92 L1582.56 640.07 L1586.74 642.2 L1590.91 644.32 L1595.09 646.44 L1599.26 648.54 L1603.44 650.63 L1607.62 652.72 L1611.79 654.79 L1615.97 656.85 L1620.15 658.9 L1624.32 660.94 L1628.5 662.98 L1632.68 665 L1636.85 667.01 L1641.03 669.01 L1645.21 671 L1649.38 672.98 L1653.56 674.95 L1657.74 676.91 L1661.91 678.86 L1666.09 680.8 L1670.26 682.73 L1674.44 684.65 L1678.62 686.56 L1682.79 688.46 L1686.97 690.35 L1691.15 692.23 L1695.32 694.1 L1699.5 695.96 L1703.68 697.81 L1707.85 699.65 L1712.03 701.48 L1716.21 703.3 L1720.38 705.11 L1724.56 706.91 L1728.74 708.7 L1732.91 710.48 L1737.09 712.25 L1741.26 714.01 L1745.44 715.76 L1749.62 717.5 L1753.79 719.24 L1757.97 720.96 L1762.15 722.67 L1766.32 724.37 L1770.5 726.07 L1774.68 727.75 L1778.85 729.42 L1783.03 731.09 L1787.21 732.74 L1791.38 734.39 L1795.56 736.02 L1799.74 737.65 L1803.91 739.26 L1808.09 740.87 L1812.26 742.47 L1816.44 744.06 L1820.62 745.63 L1824.79 747.2 L1828.97 748.76 L1833.15 750.31 L1837.32 751.85 L1841.5 753.38 L1845.68 754.91 L1849.85 756.42 L1854.03 757.92 L1858.21 759.42 L1862.38 760.9 L1866.56 762.38 L1870.74 763.84 L1874.91 765.3 L1879.09 766.75 L1883.26 768.18 L1887.44 769.61 L1891.62 771.03 L1895.79 772.44 L1899.97 773.84 L1904.15 775.24 L1908.32 776.62 L1912.5 777.99 L1916.68 779.36 L1920.85 780.71 L1925.03 782.06 L1929.21 783.4 L1933.38 784.73 L1937.56 786.05 L1941.74 787.36 L1945.91 788.66 L1950.09 789.95 L1954.26 791.24 L1958.44 792.53 L1962.62 793.85 L1966.79 795.17 L1970.97 796.48 L1975.15 797.79 L1979.32 799.08 L1983.5 800.36 L1987.68 801.64 L1991.85 802.91 L1996.03 804.16 L2000.21 805.38 L2004.38 806.57 L2008.56 807.76 L2012.74 808.93 L2016.91 810.1 L2021.09 811.26 L2025.26 812.41 L2029.44 813.55 L2033.62 814.68 L2037.79 815.8 L2041.97 816.92 L2046.15 818.02 L2050.32 819.12 L2054.5 820.21" stroke="#f00" stroke-width="7.5" stroke-linejoin="round"/>
<path d="M1557.5 1121.1 L1565.92 1121.1 L1574.35 1121.1 L1582.77 1121.1 L1591.19 1121.1 L1599.62 1121.1 L1608.04 1121.1 L1616.47 1121.1 L1624.89 1121.1 L1633.31 1121.1 L1641.74 1121.1 L1650.16 1121.1 L1658.58 1121.1 L1667.01 1121.1 L1675.43 1121.1 L1683.86 1121.1 L1692.28 1121.1 L1700.7 1121.1 L1709.13 1121.1 L1717.55 1121.1 L1725.97 1121.1 L1734.4 1121.1 L1742.82 1121.1 L1751.25 1121.1 L1759.67 1121.1 L1768.09 1121.1 L1776.52 1121.1 L1784.94 1121.1 L1793.36 1121.1 L1801.79 1121.1 L1810.21 1121.1 L1818.64 1121.1 L1827.06 1121.1 L1835.48 1121.1 L1843.91 1121.1 L1852.33 1121.1 L1860.75 1121.1 L1869.18 1121.1 L1877.6 1121.1 L1886.03 1121.1 L1894.45 1121.1 L1902.87 1121.1 L1911.3 1121.1 L1919.72 1121.1 L1928.14 1121.1 L1936.57 1121.1 L1944.99 1121.16 L1953.42 1121.22 L1961.84 1121.28 L1970.26 1121.35 L1978.69 1121.42 L1987.11 1121.56 L1995.53 1121.7 L2003.96 1121.84 L2012.38 1122.04 L2020.81 1122.27 L2029.23 1122.51 L2037.65 1122.81 L2046.08 1123.16 L2054.5 1123.5" stroke="#f00" stroke-width="7.5" stroke-linejoin="round"/>
<path d="M1557.5 627.04 L1561.68 629.24 L1565.85 631.42 L1570.03 633.6 L1574.21 635.77 L1578.38 637.92 L1582.56 640.07 L1586.74 642.2 L1590.91 644.32 L1595.09 646.44 L1599.26 648.54 L1603.44 650.63 L1607.62 652.72 L1611.79 654.79 L1615.97 656.85 L1620.15 658.9 L1624.32 660.94 L1628.5 662.98 L1632.68 665 L1636.85 667.01 L1641.03 669.01 L1645.21 671 L1649.38 672.98 L1653.56 674.95 L1657.74 676.91 L1661.91 678.86 L1666.09 680.8 L1670.26 682.73 L1674.44 684.65 L1678.62 686.56 L1682.79 688.46 L1686.97 690.35 L1691.15 692.23 L1695.32 694.1 L1699.5 695.96 L1703.68 697.81 L1707.85 699.65 L1712.03 701.48 L1716.21 703.3 L1720.38 705.11 L1724.56 706.91 L1728.74 708.7 L1732.91 710.48 L1737.09 712.25 L1741.26 714.01 L1745.44 715.76 L1749.62 717.5 L1753.79 719.24 L1757.97 720.96 L1762.15 722.67 L1766.32 724.37 L1770.5 726.07 L1774.68 727.75 L1778.85 729.42 L1783.03 731.09 L1787.21 732.74 L1791.38 734.39 L1795.56 736.02 L1799.74 737.65 L1803.91 739.26 L1808.09 740.87 L1812.26 742.47 L1816.44 744.06 L1820.62 745.63 L1824.79 747.2 L1828.97 748.76 L1833.15 750.31 L1837.32 751.85 L1841.5 753.38 L1845.68 754.91 L1849.85 756.42 L1854.03 757.92 L1858.21 759.42 L1862.38 760.9 L1866.56 762.38 L1870.74 763.84 L1874.91 765.3 L1879.09 766.75 L1883.26 768.18 L1887.44 769.61 L1891.62 771.03 L1895.79 772.44 L1899.97 773.84 L1904.15 775.24 L1908.32 776.62 L1912.5 777.99 L1916.68 779.36 L1920.85 780.71 L1925.03 782.06 L1929.21 783.4 L1933.38 784.73 L1937.56 786.05 L1941.74 787.36 L1945.91 788.66 L1950.09 789.95 L1954.26 791.24 L1958.44 792.51 L1962.62 793.78 L1966.79 795.03 L1970.97 796.28 L1975.15 797.52 L1979.32 798.75 L1983.5 799.97 L1987.68 801.19 L1991.85 802.39 L1996.03 803.59 L2000.21 804.77 L2004.38 805.95 L2008.56 807.12 L2012.74 808.28 L2016.91 809.43 L2021.09 810.57 L2025.26 811.71 L2029.44 812.83 L2033.62 813.95 L2037.79 815.06 L2041.97 816.16 L2046.15 817.25 L2050.32 818.33 L2054.5 819.41" stroke="#00f" stroke-width="7.5" stroke-linejoin="round" stroke-dasharray="27.7 11.98"/>
<path d="M1557.5 1121.1 L1565.92 1121.1 L1574.35 1121.1 L1582.77 1121.1 L1591.19 1121.1 L1599.62 1121.1 L1608.04 1121.1 L1616.47 1121.1 L1624.89 1121.1 L1633.31 1121.1 L1641.74 1121.1 L1650.16 1121.1 L1658.58 1121.1 L1667.01 1121.1 L1675.43 1121.1 L1683.86 1121.1 L1692.28 1121.1 L1700.7 1121.1 L1709.13 1121.1 L1717.55 1121.1 L1725.97 1121.1 L1734.4 1121.1 L1742.82 1121.1 L1751.25 1121.1 L1759.67 1121.1 L1768.09 1121.1 L1776.52 1121.1 L1784.94 1121.1 L1793.36 1121.1 L1801.79 1121.1 L1810.21 1121.1 L1818.64 1121.1 L1827.06 1121.1 L1835.48 1121.1 L1843.91 1121.1 L1852.33 1121.1 L1860.75 1121.1 L1869.18 1121.1 L1877.6 1121.1 L1886.03 1121.1 L1894.45 1121.1 L1902.87 1121.1 L1911.3 1121.1 L1919.72 1121.1 L1928.14 1121.1 L1936.57 1121.1 L1944.99 1121.16 L1953.42 1121.22 L1961.84 1121.28 L1970.26 1121.35 L1978.69 1121.42 L1987.11 1121.56 L1995.53 1121.7 L2003.96 1121.84 L2012.38 1122.04 L2020.81 1122.27 L2029.23 1122.51 L2037.65 1122.81 L2046.08 1123.16 L2054.5 1123.5" stroke="#00f" stroke-width="7.5" stroke-linejoin="round" stroke-dasharray="27.7 11.98"/>
<circle cx="1557.5" cy="627.04" r="11.25" fill="#00f"/>
<circle cx="1562.18" cy="629.5" r="11.25" fill="#00f"/>
<circle cx="1608.7" cy="653.25" r="11.25" fill="#00f"/>
<circle cx="1843.5" cy="754.11" r="11.25" fill="#00f"/>
<circle cx="2054.5" cy="819.41" r="11.25" fill="#00f"/>
<circle cx="1557.5" cy="1121.1" r="11.25" fill="#00f"/>
<circle cx="1562.18" cy="1121.1" r="11.25" fill="#00f"/>
<circle cx="1608.7" cy="1121.1" r="11.25" fill="#00f"/>
<circle cx="1843.5" cy="1121.1" r="11.25" fill="#00f"/>
<circle cx="2054.5" cy="1123.5" r="11.25" fill="#00f"/>
</g>
<path d="M1580.4 1148.55v7.5M1603.8 1148.55v7.5M1627.2 1148.55v7.5M1650.6 1148.55v7.5M1697.4 1148.55v7.5M1720.8 1148.55v7.5M1744.2 1148.55v7.5M1767.6 1148.55v7.5M1814.4 1148.55v7.5M1837.8 1148.55v7.5M1861.2 1148.55v7.5M1884.6 1148.55v7.5M1931.4 1148.55v7.5M1954.8 1148.55v7.5M1978.2 1148.55v7.5M2001.6 1148.55v7.5M2048.4 1148.55v7.5M1557.5 1111.75h-7.9M1557.5 1082.9h-7.9M1557.5 1054.05h-7.9M1557.5 996.35h-7.9M1557.5 967.5h-7.9M1557.5 938.65h-7.9M1557.5 880.95h-7.9M1557.5 852.1h-7.9M1557.5 823.25h-7.9M1557.5 765.55h-7.9M1557.5 736.7h-7.9M1557.5 707.85h-7.9M1557.5 650.15h-7.9M1557.5 621.3h-7.9" fill="none" stroke="#000" stroke-width="1.8"/>
<path d="M1674 1148.55v13.4M1791 1148.55v13.4M1908 1148.55v13.4M2025 1148.55v13.4M1557.5 1140.6h-13.5M1557.5 1025.2h-13.5M1557.5 909.8h-13.5M1557.5 794.4h-13.5M1557.5 679h-13.5" fill="none" stroke="#000" stroke-width="3.0"/>
<rect x="1557.5" y="601.7" width="511" height="546.85" fill="none" stroke="#000" stroke-width="3.0"/>
<g font-size="34.4" stroke="#000" stroke-width="0.4" stroke-linejoin="round">
<text transform="translate(1523.6 1152.9) scale(1 1.035)" text-anchor="end">0.0</text>
<text transform="translate(1523.6 1037.5) scale(1 1.035)" text-anchor="end">0.2</text>
<text transform="translate(1523.6 922.1) scale(1 1.035)" text-anchor="end">0.4</text>
<text transform="translate(1523.6 806.7) scale(1 1.035)" text-anchor="end">0.6</text>
<text transform="translate(1523.6 691.3) scale(1 1.035)" text-anchor="end">0.8</text>
<text transform="translate(1674 1207.1) scale(1 1.035)" text-anchor="middle">250</text>
<text transform="translate(1791 1207.1) scale(1 1.035)" text-anchor="middle">500</text>
<text transform="translate(1908 1207.1) scale(1 1.035)" text-anchor="middle">750</text>
<text transform="translate(2025 1207.1) scale(1 1.035)" text-anchor="middle">1000</text>
</g>
<g font-size="41.3" stroke="#000" stroke-width="0.45" stroke-linejoin="round">
<text x="1813" y="1258.8" text-anchor="middle">Cycle number</text>
<text transform="translate(1453.7 875.12) rotate(-90)" text-anchor="middle" xml:space="preserve">Positive electrode stoich. limits</text>
</g>
</g>
</svg>
</body>
</html>
